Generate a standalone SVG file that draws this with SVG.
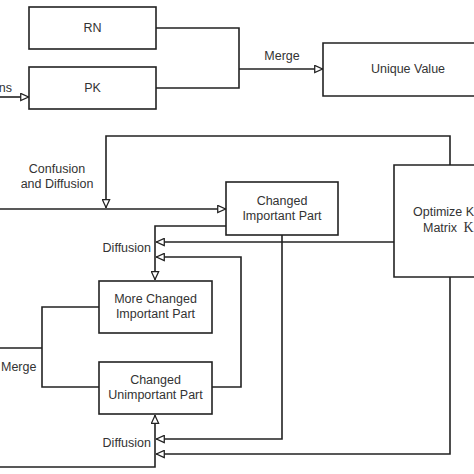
<svg xmlns="http://www.w3.org/2000/svg" width="474" height="474" viewBox="0 0 474 474">
<defs>
<style>
.box{fill:#fff;stroke:#222;stroke-width:1.6}
.ln{fill:none;stroke:#222;stroke-width:1.6}
.t{font-family:"Liberation Sans",Arial,sans-serif;font-size:12.5px;fill:#333}
.m{text-anchor:middle}
.e{text-anchor:end}
.k{font-family:"Liberation Serif","Times New Roman",serif;font-size:14px;fill:#333}
</style>
<marker id="a" viewBox="0 0 10 10" refX="10" refY="5" markerWidth="9" markerHeight="9" markerUnits="userSpaceOnUse" orient="auto">
<path d="M0.8,1 L9.5,5 L0.8,9 Z" fill="#fff" stroke="#222" stroke-width="1.4"/>
</marker>
</defs>
<rect width="474" height="474" fill="#fff"/>
<g id="connectors">
<path class="ln" d="M156,28 H239 V88 H156"/>
<path class="ln" d="M239,69 H323" marker-end="url(#a)"/>
<path class="ln" d="M0,97 H29" marker-end="url(#a)"/>
<path class="ln" d="M0,209 H226" marker-end="url(#a)"/>
<path class="ln" d="M450,165 V136 H106 V208" marker-end="url(#a)"/>
<path class="ln" d="M226,226 H155 V280" marker-end="url(#a)"/>
<path class="ln" d="M394,242 H156" marker-end="url(#a)"/>
<path class="ln" d="M212,387 H241 V257 H156" marker-end="url(#a)"/>
<path class="ln" d="M282,235 V439 H156" marker-end="url(#a)"/>
<path class="ln" d="M450,277 V454 H156" marker-end="url(#a)"/>
<path class="ln" d="M0,467 H155 V415" marker-end="url(#a)"/>
<path class="ln" d="M99,307 H42 V387 H99 M42,348 H0"/>
<text class="t m" x="282" y="60">Merge</text>
<text class="t e" x="12" y="92">ns</text>
<text class="t m" x="57" y="173">Confusion</text>
<text class="t m" x="57" y="188">and Diffusion</text>
<text class="t e" x="151" y="252">Diffusion</text>
<text class="t e" x="151" y="447">Diffusion</text>
<text class="t" x="1" y="371">Merge</text>
</g>
<g id="rn"><rect class="box" x="29" y="7" width="127" height="42"/><text class="t m" x="92.5" y="32">RN</text></g>
<g id="pk"><rect class="box" x="29" y="67" width="127" height="42"/><text class="t m" x="92.5" y="92">PK</text></g>
<g id="unique"><path class="box" d="M475,43 H323 V96 H475"/><text class="t m" x="408" y="73">Unique Value</text></g>
<g id="cip"><rect class="box" x="226" y="182" width="112" height="53"/><text class="t m" x="282" y="205">Changed</text><text class="t m" x="282" y="220">Important Part</text></g>
<g id="optimize"><path class="box" d="M475,165 H394 V277 H475"/><text class="t" x="413" y="216">Optimize K</text><text class="t" x="423" y="232">Matrix <tspan class="k" dx="3">K</tspan></text></g>
<g id="mcip"><rect class="box" x="99" y="281" width="113" height="52"/><text class="t m" x="155.5" y="303">More Changed</text><text class="t m" x="155.5" y="318">Important Part</text></g>
<g id="cup"><rect class="box" x="99" y="362" width="113" height="52"/><text class="t m" x="155.5" y="384">Changed</text><text class="t m" x="155.5" y="399">Unimportant Part</text></g>
</svg>
